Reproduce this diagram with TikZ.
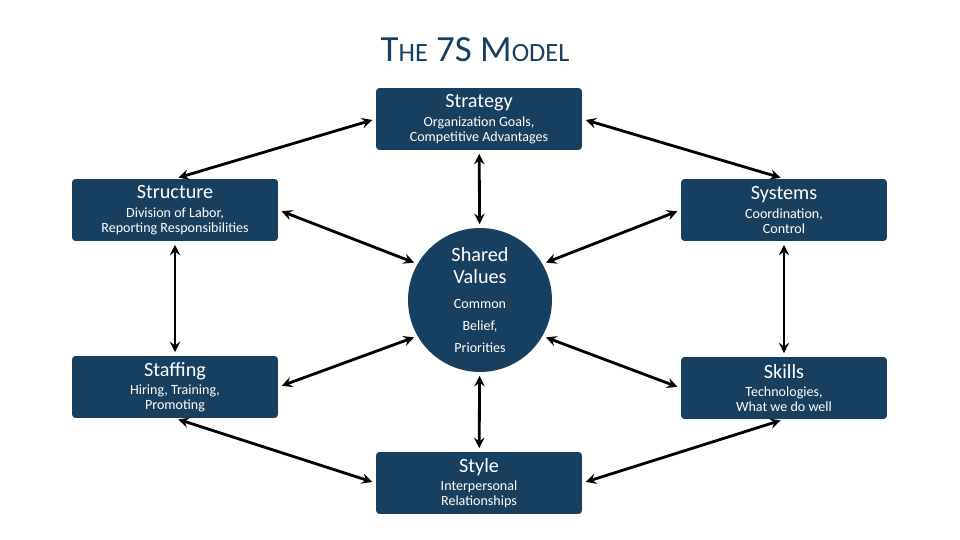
\documentclass[tikz,border=0pt]{standalone}
\usepackage{fontspec}
\setmainfont{Carlito}
\usetikzlibrary{arrows}
\definecolor{navy}{HTML}{173F5F}
\newcommand{\boxhead}{\fontsize{11.5}{13}\selectfont}

\begin{document}
\begin{tikzpicture}[
            x = 0.02cm, y = -0.02cm,
            > = stealth, % arrow head style
            link/.style = {<->, line width=1.6pt, shorten > = 2pt, shorten < = 2pt},
            box/.style = {fill = navy, text = white, rounded corners = 2pt,
                minimum width = 4.12cm, minimum height = 1.24cm,
                inner sep = 1pt, align = center, font = \fontsize{8}{8.5}\selectfont}
        ]

        \useasboundingbox (0,0) rectangle (960,540);

        \node[text = navy, font = \fontsize{21}{24}\selectfont] (title) at (475,50)
            {T{\fontsize{15}{18}\selectfont HE} 7S M{\fontsize{15}{18}\selectfont ODEL}};

        \node[box] (strategy)  at (479,119) {{\boxhead Strategy}\\[2pt]Organization Goals,\\Competitive Advantages};
        \node[box] (structure) at (175,210) {{\boxhead Structure}\\[2pt]Division of Labor,\\Reporting Responsibilities};
        \node[box] (systems)   at (784,210) {{\boxhead Systems}\\[2pt]Coordination,\\Control};
        \node[box] (staffing)  at (175,387) {{\boxhead Staffing}\\[2pt]Hiring, Training,\\Promoting};
        \node[box] (skills)    at (784,388) {{\boxhead Skills}\\[2pt]Technologies,\\What we do well};
        \node[box] (style)     at (479,483) {{\boxhead Style}\\[2pt]Interpersonal\\Relationships};

        \node[circle, fill = navy, text = white, minimum size = 2.88cm, inner sep = 0pt,
            align = center, font = \fontsize{8}{12.5}\selectfont] (values) at (480,300)
            {{\boxhead Shared}\\{\boxhead Values}\\[2pt]Common\\Belief,\\Priorities};

        \draw[link] (strategy.west) -- (structure.north);
        \draw[link] (strategy.east) -- (systems.north);
        \draw[link] (strategy) -- (values);
        \draw[link] (structure.east) -- (values.150);
        \draw[link] (systems.west) -- (values.30);
        \draw[link] (structure) -- (staffing);
        \draw[link] (systems) -- (skills);
        \draw[link] (staffing.east) -- (values.210);
        \draw[link] (skills.west) -- (values.-30);
        \draw[link] (values) -- (style);
        \draw[link] (staffing.south) -- (style.west);
        \draw[link] (skills.south) -- (style.east);

    \end{tikzpicture}
\end{document}
